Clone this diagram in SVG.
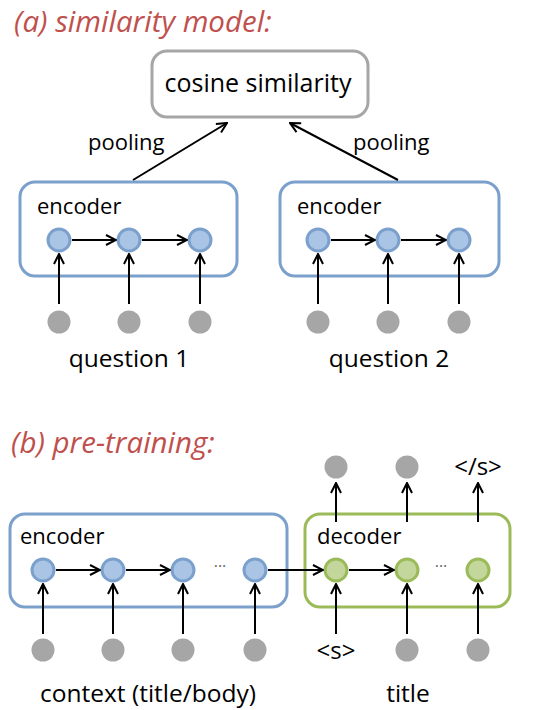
<svg xmlns="http://www.w3.org/2000/svg" width="537" height="710" viewBox="0 0 537 710">
<defs>
<marker id="ah" viewBox="0 0 12 12" refX="11" refY="6" markerWidth="12" markerHeight="12" markerUnits="userSpaceOnUse" orient="auto">
<path d="M1,1 L11,6 L1,11" fill="none" stroke="#000" stroke-width="2"/>
</marker>
<style>
text{font-family:"Open Sans","DejaVu Sans",sans-serif;fill:#000}
.h{font-style:italic;font-size:29.5px;fill:#c0504d}
.lbl{font-size:22px}
.big{font-size:24.5px}
.box{fill:#fff;stroke-width:3}
.enc{stroke:#7ba0cc}
.dec{stroke:#9bbb59}
.ne{fill:#a9c4e4;stroke:#7ba0cc;stroke-width:3}
.nd{fill:#c3d69b;stroke:#9bbb59;stroke-width:3}
.in{fill:#a6a6a6}
.c line{stroke:#000;stroke-width:2;marker-end:url(#ah)}
.dots{font-size:16px;fill:#666}
</style>
</defs>
<text class="h" x="14" y="32">(a) similarity model:</text>
<text class="h" x="11" y="453">(b) pre-training:</text>

<g id="cos">
<rect class="box" x="152" y="51" width="216" height="66" rx="15" stroke="#a6a6a6"/>
<text x="258" y="92" font-size="25" text-anchor="middle">cosine similarity</text>
</g>

<g id="enc1">
<rect class="box enc" x="20" y="182" width="217" height="94" rx="15"/>
<text class="lbl" x="37" y="214">encoder</text>
<circle class="ne" cx="59" cy="240" r="11"/>
<circle class="ne" cx="129" cy="240" r="11"/>
<circle class="ne" cx="200" cy="240" r="11"/>
</g>
<g id="enc2">
<rect class="box enc" x="280" y="182" width="219" height="94" rx="15"/>
<text class="lbl" x="297" y="214">encoder</text>
<circle class="ne" cx="318" cy="240" r="11"/>
<circle class="ne" cx="388" cy="240" r="11"/>
<circle class="ne" cx="459" cy="240" r="11"/>
</g>
<g id="q1in">
<circle class="in" cx="59" cy="322" r="11.5"/>
<circle class="in" cx="129" cy="322" r="11.5"/>
<circle class="in" cx="200" cy="322" r="11.5"/>
<text class="big" x="129" y="367" text-anchor="middle">question 1</text>
</g>
<g id="q2in">
<circle class="in" cx="318" cy="322" r="11.5"/>
<circle class="in" cx="388" cy="322" r="11.5"/>
<circle class="in" cx="459" cy="322" r="11.5"/>
<text class="big" x="389" y="367" text-anchor="middle">question 2</text>
</g>

<g id="enc3">
<rect class="box enc" x="10" y="514" width="277" height="93" rx="15"/>
<text class="lbl" x="20" y="544">encoder</text>
<circle class="ne" cx="43" cy="570" r="11"/>
<circle class="ne" cx="113" cy="570" r="11"/>
<circle class="ne" cx="183" cy="570" r="11"/>
<text class="dots" x="220" y="572" text-anchor="middle">···</text>
<circle class="ne" cx="255" cy="570" r="11"/>
</g>
<g id="dec">
<rect class="box dec" x="305" y="514" width="205" height="93" rx="15"/>
<text class="lbl" x="317" y="544">decoder</text>
<circle class="nd" cx="336" cy="570" r="11"/>
<circle class="nd" cx="407" cy="570" r="11"/>
<text class="dots" x="441" y="572" text-anchor="middle">···</text>
<circle class="nd" cx="478" cy="570" r="11"/>
</g>
<g id="outs">
<circle class="in" cx="336" cy="467" r="11.5"/>
<circle class="in" cx="407" cy="467" r="11.5"/>
<text x="478" y="475" font-size="24" text-anchor="middle">&lt;/s&gt;</text>
</g>
<g id="ctxin">
<circle class="in" cx="43" cy="650" r="11.5"/>
<circle class="in" cx="113" cy="650" r="11.5"/>
<circle class="in" cx="183" cy="650" r="11.5"/>
<circle class="in" cx="255" cy="650" r="11.5"/>
<text class="big" x="148" y="702" text-anchor="middle">context (title/body)</text>
</g>
<g id="titlein">
<text x="336" y="659" font-size="24" text-anchor="middle">&lt;s&gt;</text>
<circle class="in" cx="407" cy="650" r="11.5"/>
<circle class="in" cx="478" cy="650" r="11.5"/>
<text class="big" x="408" y="702" text-anchor="middle">title</text>
</g>

<g id="connectors" class="c">
<line x1="133" y1="180" x2="227" y2="123"/>
<line x1="398" y1="180" x2="290" y2="123"/>
<line x1="72" y1="240" x2="116" y2="240"/>
<line x1="142" y1="240" x2="187" y2="240"/>
<line x1="331" y1="240" x2="375" y2="240"/>
<line x1="401" y1="240" x2="446" y2="240"/>
<line x1="59" y1="304" x2="59" y2="254"/>
<line x1="129" y1="304" x2="129" y2="254"/>
<line x1="200" y1="304" x2="200" y2="254"/>
<line x1="318" y1="304" x2="318" y2="254"/>
<line x1="388" y1="304" x2="388" y2="254"/>
<line x1="459" y1="304" x2="459" y2="254"/>
<line x1="56" y1="570" x2="100" y2="570"/>
<line x1="126" y1="570" x2="170" y2="570"/>
<line x1="268" y1="570" x2="323" y2="570"/>
<line x1="349" y1="570" x2="394" y2="570"/>
<line x1="43" y1="634" x2="43" y2="584"/>
<line x1="113" y1="634" x2="113" y2="584"/>
<line x1="183" y1="634" x2="183" y2="584"/>
<line x1="255" y1="634" x2="255" y2="584"/>
<line x1="336" y1="634" x2="336" y2="584"/>
<line x1="407" y1="634" x2="407" y2="584"/>
<line x1="478" y1="634" x2="478" y2="584"/>
<line x1="336" y1="522" x2="336" y2="483"/>
<line x1="407" y1="522" x2="407" y2="483"/>
<line x1="478" y1="522" x2="478" y2="483"/>
</g>
<text class="lbl" x="88" y="150">pooling</text>
<text class="lbl" x="353" y="150">pooling</text>
</svg>
